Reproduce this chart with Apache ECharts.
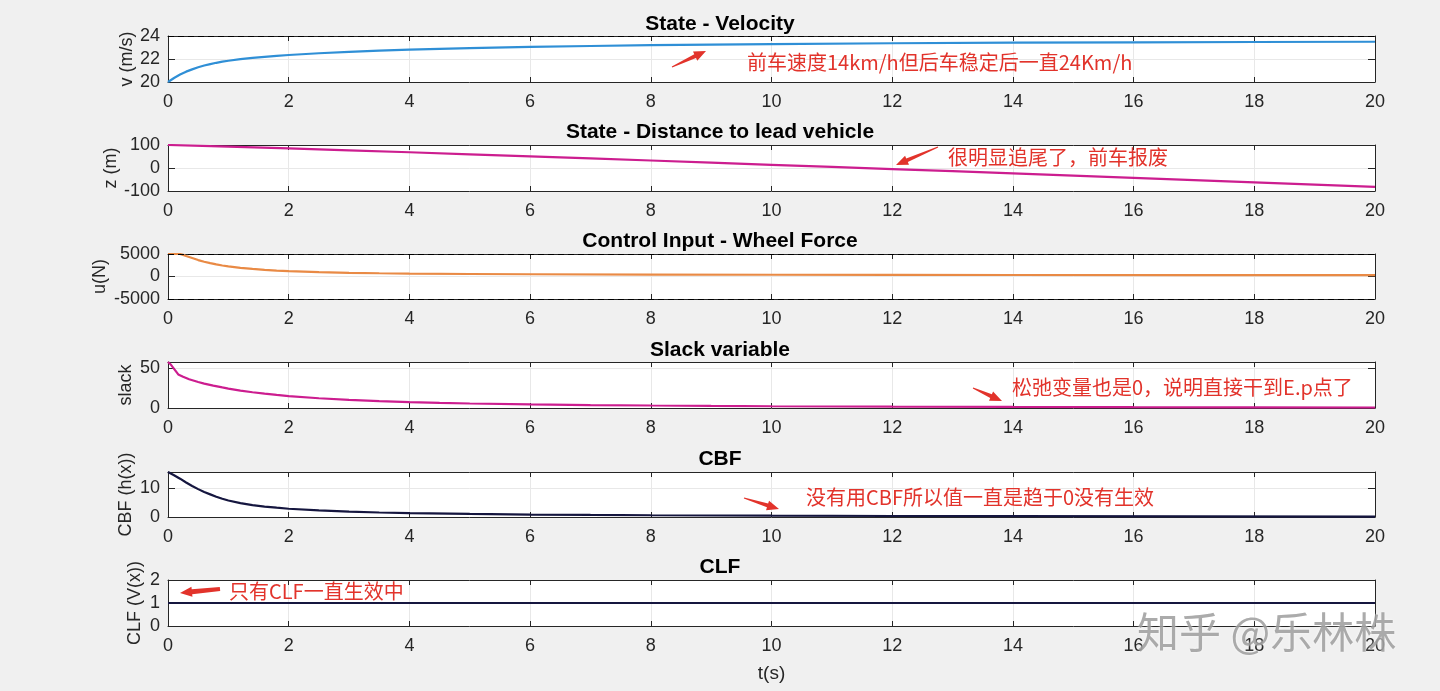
<!DOCTYPE html>
<html><head><meta charset="utf-8">
<script src="https://cdn.jsdelivr.net/npm/echarts@6/dist/echarts.min.js"></script>
<style>html,body{margin:0;padding:0;background:#f0f0f0}#c{width:1440px;height:691px}</style>
</head><body><div id="c"></div><script>
// ---- data ----
const xTicks = [0,2,4,6,8,10,12,14,16,18,20];

const velT = [0,0.1,0.2,0.3,0.4,0.5,0.6,0.7,0.8,0.9,1,1.2,1.4,1.6,1.8,2,2.5,3,3.5,4,5,6,7,8,9,10,12,14,16,18,20];
const velV = [20,20.35,20.65,20.9,21.1,21.28,21.43,21.56,21.67,21.77,21.85,21.99,22.1,22.19,22.27,22.35,22.5,22.62,22.73,22.82,22.95,23.05,23.13,23.2,23.25,23.3,23.37,23.42,23.45,23.48,23.5];
const velTicks = [20,22,24];

const distT = [0,1,2,3,4,5,6,7,8,9,10,11,12,13,14,15,16,17,18,19,20];
const distZ = [100,93.2,85.5,77,68.5,59.5,50.5,41.5,32.5,23.3,14,4.8,-4.5,-14,-23.5,-33.2,-43,-52.7,-62.5,-72.2,-82];
const distTicks = [-100,0,100];

const forceT = [0,0.1,0.2,0.25,0.3,0.4,0.5,0.6,0.7,0.8,0.9,1,1.2,1.4,1.6,1.8,2,2.5,3,3.5,4,5,6,8,10,12,14,17,20];
const forceU = [5000,5000,5000,4800,4550,4100,3650,3280,2960,2690,2450,2250,1930,1680,1480,1320,1190,960,820,720,650,560,500,430,385,355,330,305,290];
const forceTicks = [-5000,0,5000];
const forceLimits = [5000,-5000];

const slackT = [0,0.05,0.1,0.17,0.25,0.35,0.5,0.6,0.75,0.9,1,1.2,1.4,1.6,1.8,2,2.5,3,3.5,4,4.5,5,6,7,8,9,10,12,14,16,18,20];
const slackS = [57.5,54,49,42,39,36,32.5,30.5,28,25.7,24.3,21.8,19.7,17.9,16.3,14.9,12.2,10.2,8.6,7.4,6.4,5.6,4.5,3.7,3.1,2.6,2.2,1.7,1.3,1.0,0.8,0.6];
const slackTicks = [0,50];

const cbfT = [0,0.1,0.2,0.3,0.4,0.5,0.6,0.7,0.8,0.9,1,1.2,1.4,1.6,1.8,2,2.5,3,3.5,4,5,6,7,8,10,12,14,17,20];
const cbfH = [15.5,14.4,13.2,11.9,10.7,9.6,8.6,7.8,7.0,6.3,5.7,4.8,4.1,3.6,3.2,2.85,2.25,1.85,1.55,1.35,1.05,0.85,0.7,0.6,0.45,0.35,0.28,0.2,0.15];
const cbfTicks = [0,10];

const clfT = [0,20];
const clfV = [1,1];
const clfTicks = [0,1,2];

const velRef = [24];

const titles = ['State - Velocity','State - Distance to lead vehicle','Control Input - Wheel Force','Slack variable','CBF','CLF'];
const yNames = ['v (m/s)','z (m)','u(N)','slack','CBF (h(x))','CLF (V(x))'];
const notes = ['前车速度14km/h但后车稳定后一直24Km/h','很明显追尾了，前车报废','松弛变量也是0，说明直接干到E.p点了','没有用CBF所以值一直是趋于0没有生效','只有CLF一直生效中'];
const watermark = '知乎 @乐林株';
const xName = 't(s)';

// ---- layout / style ----
const panels = [
  {t:velT, y:velV, ticks:velTicks, min:20, max:24, interval:2, color:'#2f8fd6', ref:velRef},
  {t:distT, y:distZ, ticks:distTicks, min:-100, max:100, interval:100, color:'#cc1d8f'},
  {t:forceT, y:forceU, ticks:forceTicks, min:-5000, max:5000, interval:5000, color:'#e98a45', ref:forceLimits},
  {t:slackT, y:slackS, ticks:slackTicks, min:0, max:57.5, interval:50, color:'#cc1d8f'},
  {t:cbfT, y:cbfH, ticks:cbfTicks, min:0, max:15.5, interval:10, color:'#15163f'},
  {t:clfT, y:clfV, ticks:clfTicks, min:0, max:2, interval:1, color:'#15163f'}
];
const gridTops = [36,145,254,362,472,580];
const gridH = [46,46,45,46,45,46];
const titleCenters = [21,129,238,347,456,564];
const nameGaps = [32,48,59,33,33,24];
const L = 168, R = 65;
const axisColor = '#262626';
const FONT = '"Liberation Sans", Arial, Helvetica, sans-serif';
const CJK = '"Noto Sans CJK SC", sans-serif';

const grid = [], xAxis = [], yAxis = [], series = [], title = [];
panels.forEach((p,i) => {
  grid.push({left:L, right:R, top:gridTops[i], height:gridH[i], show:true, backgroundColor:'#fff', borderWidth:0});
  title.push({text:titles[i], left:'center', top:titleCenters[i]-12,
    textStyle:{fontFamily:FONT, fontSize:21, fontWeight:'bold', color:'#000'}});
  xAxis.push({type:'value', gridIndex:i, min:0, max:20, interval:2, position:'bottom',
    axisLine:{show:true, onZero:false, lineStyle:{color:axisColor}},
    axisTick:{show:true, inside:true, length:5, lineStyle:{color:axisColor}},
    axisLabel:{show:true, fontFamily:FONT, fontSize:18, color:axisColor, margin:11,
      formatter:v=> xTicks.includes(v)?String(v):''},
    splitLine:{show:true, lineStyle:{color:'#e8e8e8'}},
    name: i===5 ? xName : '', nameLocation:'middle', nameGap:38, nameMoveOverlap:false,
    nameTextStyle:{fontFamily:FONT, fontSize:19, color:axisColor}});
  xAxis.push({type:'value', gridIndex:i, min:0, max:20, interval:2, position:'top',
    axisLine:{show:true, onZero:false, lineStyle:{color:axisColor}},
    axisTick:{show:true, inside:true, length:5, lineStyle:{color:axisColor}},
    axisLabel:{show:false}, splitLine:{show:false}});
  yAxis.push({type:'value', gridIndex:i, min:p.min, max:p.max, interval:p.interval, position:'left',
    axisLine:{show:true, onZero:false, lineStyle:{color:axisColor}},
    axisTick:{show:true, inside:true, length:7, lineStyle:{color:axisColor}},
    axisLabel:{show:true, fontFamily:FONT, fontSize:18, color:axisColor, margin:8,
      showMaxLabel: p.ticks.includes(p.max), showMinLabel:true,
      formatter:v=> p.ticks.includes(v)?String(v):''},
    splitLine:{show:true, lineStyle:{color:'#e8e8e8'}},
    name:yNames[i], nameLocation:'middle', nameGap:nameGaps[i], nameMoveOverlap:false,
    nameTextStyle:{fontFamily:FONT, fontSize:18, color:axisColor}});
  yAxis.push({type:'value', gridIndex:i, min:p.min, max:p.max, interval:p.interval, position:'right',
    axisLine:{show:true, onZero:false, lineStyle:{color:axisColor}},
    axisTick:{show:true, inside:true, length:7, lineStyle:{color:axisColor}},
    axisLabel:{show:false}, splitLine:{show:false}});
  const s = {type:'line', xAxisIndex:2*i, yAxisIndex:2*i, showSymbol:false, symbol:'none',
    smooth:false, clip:true, z:3,
    lineStyle:{color:p.color, width:2.2}, itemStyle:{color:p.color},
    data:p.t.map((x,k)=>[x,p.y[k]])};
  if (p.ref) {
    s.markLine = {silent:true, symbol:'none', label:{show:false}, animation:false,
      lineStyle:{color:'#000', type:[6,4], width:1.2},
      data:p.ref.map(v=>({yAxis:v}))};
  }
  series.push(s);
});

function arrow(x1,y1,x2,y2,tw,sw,hw,hl,color){
  const dx=x2-x1, dy=y2-y1, len=Math.hypot(dx,dy);
  const ux=dx/len, uy=dy/len, nx=-uy, ny=ux;
  const bx=x2-ux*hl, by=y2-uy*hl;
  return {type:'polygon', z:100, silent:true,
    shape:{points:[
      [x1+nx*tw/2,y1+ny*tw/2],[bx+nx*sw/2,by+ny*sw/2],[bx+nx*hw/2,by+ny*hw/2],[x2,y2],
      [bx-nx*hw/2,by-ny*hw/2],[bx-nx*sw/2,by-ny*sw/2],[x1-nx*tw/2,y1-ny*tw/2]]},
    style:{fill:color}};
}
const red = '#e2332b';
const noteText = (txt,x,y) => ({type:'text', x:x, y:y, z:100, silent:true,
  style:{text:txt, fill:red, font:'20px '+CJK, verticalAlign:'middle', align:'left'}});

const graphic = [
  arrow(672,67,706,51,1,4,10,12,red),
  noteText(notes[0],747,62),
  arrow(938,147,896,165,1,4,10,12,red),
  noteText(notes[1],948,157),
  arrow(973,388,1002,401,1,4,10,12,red),
  noteText(notes[2],1012,387),
  arrow(744,498,779,509,1,4,10,12,red),
  noteText(notes[3],806,497),
  arrow(220,589,180,593,4,5,10,12,red),
  noteText(notes[4],229,591),
  {type:'text', x:1137, y:632, z:110, silent:true,
    style:{text:watermark, fill:'rgba(150,150,150,0.8)', font:'42px '+CJK, verticalAlign:'middle',
      textShadowColor:'rgba(255,255,255,0.9)', textShadowBlur:3}}
];

const chart = echarts.init(document.getElementById('c'), null, {renderer:'canvas'});
chart.setOption({
  backgroundColor:'#f0f0f0', animation:false,
  title, grid, xAxis, yAxis, series, graphic
});
</script></body></html>
